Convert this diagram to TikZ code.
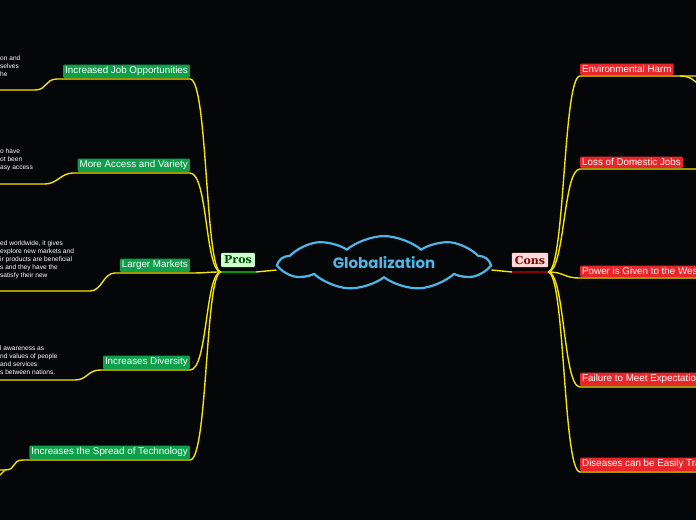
\documentclass[tikz,border=0pt]{standalone}
\usepackage{fontspec}
\setmainfont{Liberation Sans}
\newfontfamily\titlefont{Poppins}
\newfontfamily\slabfont{DejaVu Serif}
\usetikzlibrary{shapes.symbols}
\definecolor{bg}{HTML}{050608}
\definecolor{yel}{HTML}{F5E400}
\definecolor{gbox}{HTML}{0E9F4A}
\definecolor{rbox}{HTML}{E8262A}
\definecolor{sky}{HTML}{4DB6E6}
\tikzset{
 br/.style={yel, line width=1.4pt},
 pro/.style={fill=gbox, text=white, font=\fontsize{9.8}{11}\selectfont, inner sep=2pt, rounded corners=1pt, anchor=south east},
 con/.style={fill=rbox, text=white, font=\fontsize{9.8}{11}\selectfont, inner sep=2pt, rounded corners=1pt, anchor=south west},
 note/.style={text=white, font=\fontsize{6.6}{8}\selectfont, align=left, anchor=north west, inner sep=0pt}
}
\begin{document}
\begin{tikzpicture}[x=1pt,y=-1pt]
\fill[bg] (0,0) rectangle (696,520);
\useasboundingbox (0,0) rectangle (696,520);
\clip (0,0) rectangle (696,520);
% central
\node[cloud, cloud puffs=9, cloud puff arc=80, aspect=3.8, draw=sky, line width=2.2pt, minimum width=208pt, minimum height=52pt, inner sep=0pt, text=sky, font=\titlefont\bfseries\fontsize{15}{17}\selectfont] (g) at (384,263) {Globalization};
\node[fill=green!20!white, text=green!30!black, font=\slabfont\bfseries\fontsize{11}{12}\selectfont, inner sep=3pt, rounded corners=1pt] (pros) at (238,260) {Pros};
\node[fill=red!15!white, text=red!50!black, font=\slabfont\bfseries\fontsize{11}{12}\selectfont, inner sep=3pt, rounded corners=1pt] (cons) at (530,260) {Cons};
\coordinate (pl) at (221,272); \coordinate (pr) at (256,272);
\coordinate (cl) at (512,272); \coordinate (cr) at (548,272);
\draw[br] (pr) -- (g.west |- 0,270);
\draw[br] (g.east |- 0,270) -- (cl);
\draw[green!60!black, line width=2pt] (pl) -- (pr);
\draw[red!55!black, line width=2pt] (cl) -- (cr);
% pros
\foreach \n/\y/\xl/\t/\ly/\lx in {a/79/57/Increased Job Opportunities/90/35, b/173/73/More Access and Variety/184/45, c/273/115/Larger Markets/291/90, d/370/100/Increases Diversity/380/75, e/460/23/Increases the Spread of Technology/470/5}{
 \node[pro] (p\n) at (190,\y-1) {\t};
 \coordinate (p\n r) at (190,\y); \coordinate (p\n l) at (\xl,\y);
 \draw[br] (pl) .. controls (205,272) and (208,\y) .. (p\n r) -- (p\n l) .. controls (\xl-12,\y) and (\lx+12,\ly) .. (\lx,\ly) -- (0,\ly);
}
\draw[br] (5,470) -- (0,475);
\node[note] (n1) at (0,56) {on and\\selves\\he};
\node[note] (n2) at (0,149) {o have\\ot been\\asy access};
\node[note] (n3) at (0,241) {ed worldwide, it gives\\ explore new markets and\\ir products are beneficial\\s and they have the\\satisfy their new};
\node[note] (n4) at (0,346) {l awareness as\\nd values of people\\ and services\\s between nations.};
% cons
\foreach \n/\y/\t in {a/76/Environmental Harm, b/169/Loss of Domestic Jobs, c/278/Power is Given to the West, d/387/Failure to Meet Expectations, e/472/Diseases can be Easily Transmitted}{
 \node[con] (c\n) at (580,\y-1) {\t};
 \coordinate (c\n l) at (580,\y);
 \draw[br] (cr) .. controls (565,272) and (563,\y) .. (c\n l) -- (700,\y);
}
\draw[br] (680,76) .. controls (690,76) and (694,80) .. (700,86);
\end{tikzpicture}
\end{document}
